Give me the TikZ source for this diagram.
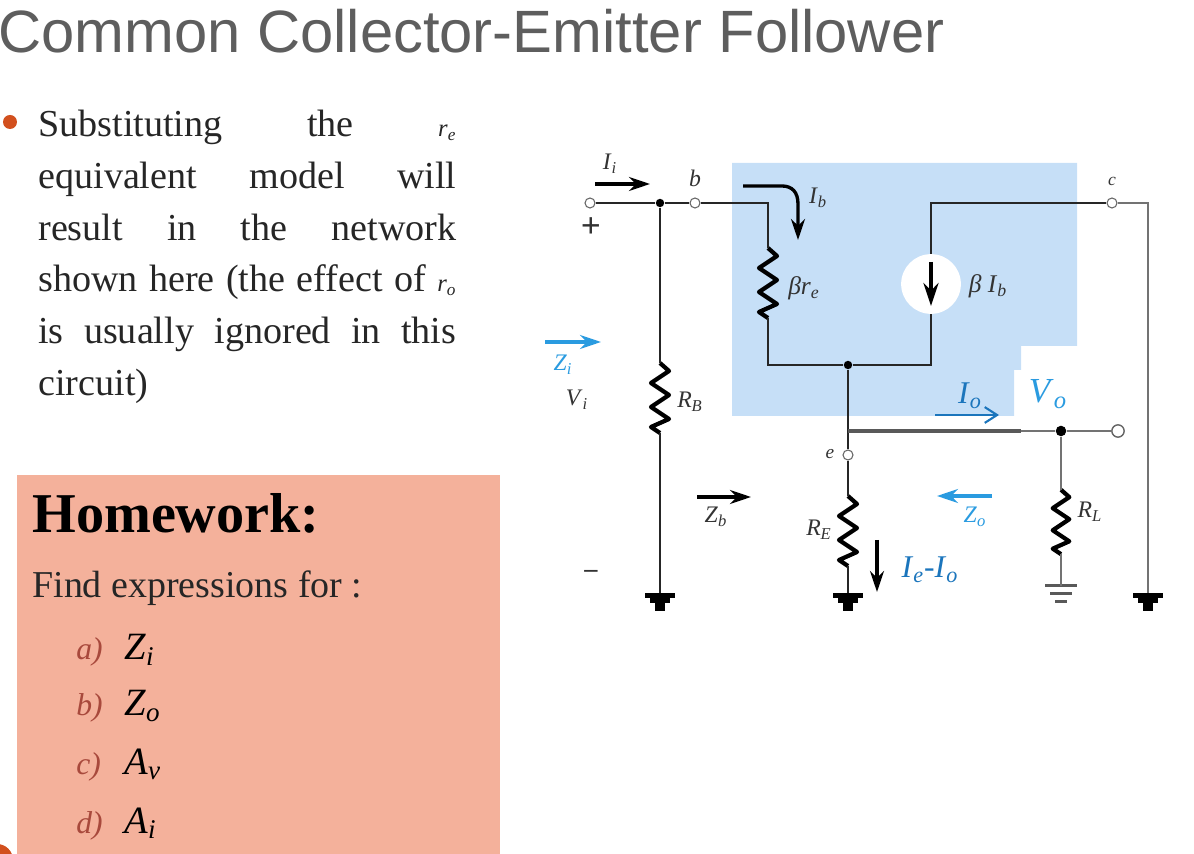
\documentclass[tikz,border=0pt]{standalone}
\usepackage{fontspec}
\setmainfont{Liberation Serif}
\newfontfamily\titlefont{Liberation Sans}
\usetikzlibrary{arrows.meta}
\usetikzlibrary{positioning}
\newcommand{\fs}[1]{\fontsize{#1}{#1}\selectfont}
\newcommand{\sym}[2]{\textit{#1}\textsubscript{\textit{#2}}}
\newcommand{\smallsym}[2]{{\fontsize{14}{29.4}\selectfont\textit{#1\textsubscript{#2}}}}
\definecolor{slidegray}{HTML}{5E5E5E}
\definecolor{bulletorange}{HTML}{D2501E}
\definecolor{boxsalmon}{HTML}{F4B19B}
\definecolor{itemred}{HTML}{A8493C}
\definecolor{regionblue}{HTML}{C6DFF7}
\definecolor{brightblue}{HTML}{2A9BE0}
\definecolor{darkblue}{HTML}{1B75BC}
\tikzset{
    resistor/.pic={
        % Zigzag body
        \coordinate (-top) at (0,-35);
        \coordinate (-bot) at (0,35);
        \draw[line width=2.4pt, line join=round] (0,-35) -- (9,-27) -- (-9,-15) -- (9,-3) -- (-9,9) -- (9,21) -- (-9,29) -- (0,35);
    },
    bigground/.pic={
        % Stepped ground
        \coordinate (-top) at (0,0);
        \fill (-15,0) rectangle (15,5);
        \fill (-10,5) rectangle (10,10);
        \fill (-5,10) rectangle (5,18);
    },
    wire/.style={line width=0.7pt, black!85},
    graywire/.style={line width=0.8pt, black!55},
    terminal/.style={circle, draw=black!60, fill=white, line width=0.6pt, inner sep=0pt, minimum size=5.7pt},
    junction/.style={circle, fill=black, inner sep=0pt, minimum size=4.8pt},
    lab/.style={inner sep=0pt, font=\fs{13.5}, text=black!80},
    bluelab/.style={inner sep=0pt, font=\fs{13.5}, text=brightblue},
    flowarrow/.style={-{Stealth[length=12pt,width=8pt]}, line width=1.9pt},
}

\begin{document}
\begin{tikzpicture}[x=0.02cm, y=-0.02cm, >=stealth]

    \useasboundingbox[clip] (0,0) rectangle (1194,854);

    % Title
    \node[anchor=base west, inner sep=0pt, text=slidegray, font=\titlefont\fs{34}] (title) at (-2,53) {Common Collector-Emitter Follower};

    % Bullet text
    \fill[bulletorange] (10,122) circle (7);
    \node[anchor=north west, inner sep=0pt, text width=237.9pt, align=justify, font=\fontsize{21.7}{29.4}\selectfont, text=black!85] (body) at (38,110) {Substituting the \smallsym{r}{e}\linebreak equivalent model will\linebreak result in the network\linebreak shown here (the effect of \smallsym{r}{o}\linebreak is usually ignored in this\linebreak circuit)};

    % Homework box
    \fill[boxsalmon] (17,475) rectangle (500,860);
    \fill[bulletorange] (-3,860) circle (16);
    \node[anchor=base west, inner sep=0pt, font=\bfseries\fs{32}] (hw) at (32,533) {Homework:};
    \node[anchor=base west, inner sep=0pt, font=\fs{21.6}, text=black!85] (find) at (32,598) {Find expressions for :};
    \node[anchor=base west, inner sep=0pt, font=\itshape\fs{18}, text=itemred] (itema) at (76,660) {a)};
    \node[anchor=base west, inner sep=0pt, font=\itshape\fs{18}, text=itemred] (itemb) at (76,716) {b)};
    \node[anchor=base west, inner sep=0pt, font=\itshape\fs{18}, text=itemred] (itemc) at (76,774) {c)};
    \node[anchor=base west, inner sep=0pt, font=\itshape\fs{18}, text=itemred] (itemd) at (76,833) {d)};
    \node[anchor=base west, inner sep=0pt, font=\fs{22}] (zi) at (124,660) {\sym{Z}{i}};
    \node[anchor=base west, inner sep=0pt, font=\fs{22}] (zo) at (124,716) {\sym{Z}{o}};
    \node[anchor=base west, inner sep=0pt, font=\fs{22}] (av) at (124,774) {\sym{A}{v}};
    \node[anchor=base west, inner sep=0pt, font=\fs{22}] (ai) at (124,833) {\sym{A}{i}};

    % Blue region
    \fill[regionblue] (732,163) -- (1077,163) -- (1077,346) -- (1021,346) -- (1021,370) -- (1014,370) -- (1014,416) -- (732,416) -- cycle;

    % Corners of the wires
    \coordinate (basecorner) at (768,203);
    \coordinate (rebottom) at (768,365);
    \coordinate (srcbottom) at (931,365);
    \coordinate (srctop) at (931,203);
    \coordinate (ccorner) at (1148,203);
    \coordinate (outstart) at (848,431);
    \coordinate (outend) at (1021,431);

    % Terminals and junctions
    \node[terminal] (vin) at (590,203) {};
    \node[junction] (nodein) at (660,203) {};
    \node[terminal] (b) at (695,203) {};
    \node[terminal] (c) at (1112,203) {};
    \node[junction] (nodee) at (848,365) {};
    \node[terminal] (e) at (848,455) {};
    \node[junction, minimum size=6pt] (nodeout) at (1061,431) {};
    \node[terminal, minimum size=7pt, line width=0.8pt] (vout) at (1118,431) {};

    % Current source
    \node[circle, fill=white, inner sep=0pt, minimum size=34pt] (src) at (931,284) {};

    % Resistors and grounds
    \pic (rb) at (660,398) {resistor};
    \pic (bre) at (768,283) {resistor};
    \pic (re) at (848,531) {resistor};
    \pic[scale=0.92] (rl) at (1061,522) {resistor};
    \pic (gndb) at (660,593) {bigground};
    \pic (gnde) at (848,593) {bigground};
    \pic (gndc) at (1148,593) {bigground};
    \node[inner sep=0pt, minimum width=32pt, minimum height=0pt] (gndl) at (1061,586) {};
    \fill[black!65] (1045,584.5) rectangle (1077,587.5);
    \fill[black!65] (1050,592.5) rectangle (1072,595.5);
    \fill[black!65] (1055,600.5) rectangle (1067,603.5);

    % Wires
    \draw[wire] (vin) -- (nodein) -- (b) -- (basecorner) -- (bre-top);
    \draw[wire] (bre-bot) -- (rebottom) -- (nodee) -- (srcbottom) -- (src);
    \draw[wire] (src) -- (srctop) -- (c);
    \draw[graywire] (c) -- (ccorner) -- (gndc-top);
    \draw[wire] (nodein) -- (rb-top);
    \draw[wire] (rb-bot) -- (gndb-top);
    \draw[wire] (nodee) -- (e) -- (re-top);
    \draw[wire] (re-bot) -- (gnde-top);
    \draw[line width=2.3pt, black!65] (outstart) -- (outend);
    \draw[graywire] (outend) -- (nodeout) -- (vout);
    \draw[graywire] (nodeout) -- (rl-top);
    \draw[graywire] (rl-bot) -- (gndl.center);

    % Source arrow
    \coordinate (srca) at (931,262);
    \coordinate (srcb) at (931,306);
    \draw[-{Stealth[length=13pt,width=8.5pt]}, line width=2.4pt] (srca) -- (srcb);

    % Current and impedance arrows
    \coordinate (iia) at (595,184);
    \coordinate (iib) at (650,184);
    \draw[flowarrow] (iia) -- (iib);
    \coordinate (iba) at (743,186);
    \coordinate (ibb) at (798,240);
    \draw[flowarrow] (iba) -- (782,186) .. controls (792,186) and (798,192) .. (798,204) -- (ibb);
    \coordinate (zia) at (545,342);
    \coordinate (zib) at (601,342);
    \draw[flowarrow, brightblue] (zia) -- (zib);
    \coordinate (zba) at (697,497);
    \coordinate (zbb) at (751,497);
    \draw[flowarrow] (zba) -- (zbb);
    \coordinate (zoa) at (992,496);
    \coordinate (zob) at (937,496);
    \draw[flowarrow, brightblue] (zoa) -- (zob);
    \coordinate (ioa) at (935,415);
    \coordinate (iob) at (999,415);
    \draw[-{Straight Barb[length=7pt,width=9pt]}, line width=1.2pt, darkblue] (ioa) -- (iob);
    \coordinate (iea) at (877,540);
    \coordinate (ieb) at (877,592);
    \draw[flowarrow] (iea) -- (ieb);

    % Labels
    \node[lab] (lii) at (610,164) {\sym{I}{i}};
    \node[lab] (lb) at (695,178) {\textit{b}};
    \node[lab, font=\fs{10}] (lc) at (1112,181) {\textit{c}};
    \node[lab, font=\fs{11}] (le) at (830,454) {\textit{e}};
    \node[lab] (lib) at (818,198) {\sym{I}{b}};
    \node[lab, font=\fs{14.5}] (lbre) at (804,288) {\textit{βr}\textsubscript{\textit{e}}};
    \node[lab, font=\fs{14.5}] (lbib) at (988,286) {\textit{β I}\textsubscript{\textit{b}}};
    \node[lab, font=\bfseries\fs{20}] (plus) at (591,228) {+};
    \node[lab, font=\bfseries\fs{15}] (minus) at (591,574) {--};
    \node[bluelab] (lzi) at (563,365) {\sym{Z}{i}};
    \node[lab] (lvi) at (577,400) {\sym{V}{i}};
    \node[lab] (lrb) at (690,402) {\sym{R}{B}};
    \node[lab] (lzb) at (716,517) {\sym{Z}{b}};
    \node[lab] (lre) at (819,530) {\sym{R}{E}};
    \node[bluelab] (lzo) at (975,517) {\sym{Z}{o}};
    \node[lab] (lrl) at (1090,512) {\sym{R}{L}};
    \node[bluelab, text=darkblue, font=\fs{18}] (lio) at (970,396) {\sym{I}{o}};
    \node[bluelab, font=\fs{20}] (lvo) at (1048,394) {\sym{V}{o}};
    \node[bluelab, text=darkblue, font=\fs{18}] (lie) at (930,570) {\sym{I}{e}-\sym{I}{o}};

\end{tikzpicture}
\end{document}
